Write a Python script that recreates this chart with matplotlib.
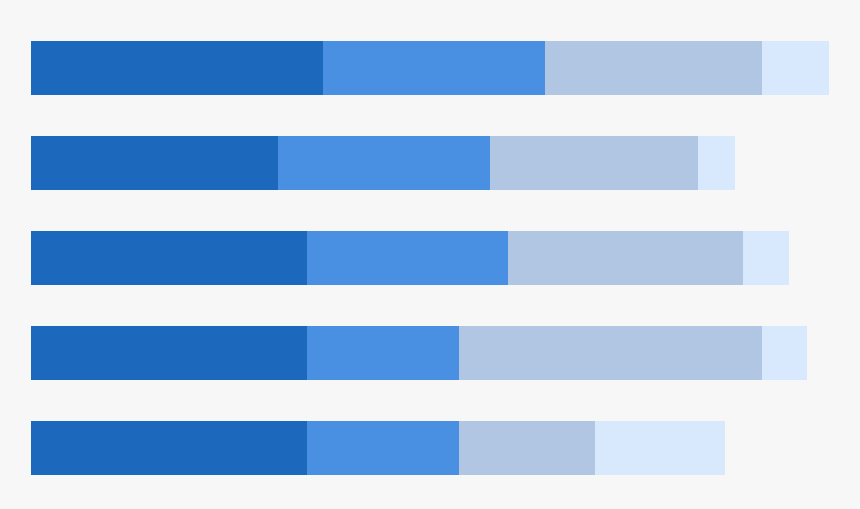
import matplotlib
matplotlib.use("Agg")
import matplotlib.pyplot as plt
import numpy as np

categories = ["A", "B", "C", "D", "E"]
seg1 = [292, 247, 276, 276, 276]
seg2 = [222, 212, 201, 152, 152]
seg3 = [217, 208, 235, 303, 136]
seg4 = [67, 37, 46, 45, 130]
colors = ["#1c68bd", "#4a90e2", "#b0c6e3", "#d8e8fd"]

fig = plt.figure(figsize=(8.6, 5.09), dpi=100, facecolor="#f7f7f7")
ax = fig.add_axes([31/860, 0, 800/860, 1])
ax.set_facecolor("#f7f7f7")
y = np.arange(len(categories))
left = np.zeros(len(categories))
for vals, c in zip([seg1, seg2, seg3, seg4], colors):
    ax.barh(y, vals, left=left, height=54/95, color=c, linewidth=0)
    left += np.array(vals)
ax.set_xlim(0, 800)
ax.set_ylim((509-68)/95, -68/95)
ax.axis("off")
fig.savefig("out.png", dpi=100, facecolor="#f7f7f7")
